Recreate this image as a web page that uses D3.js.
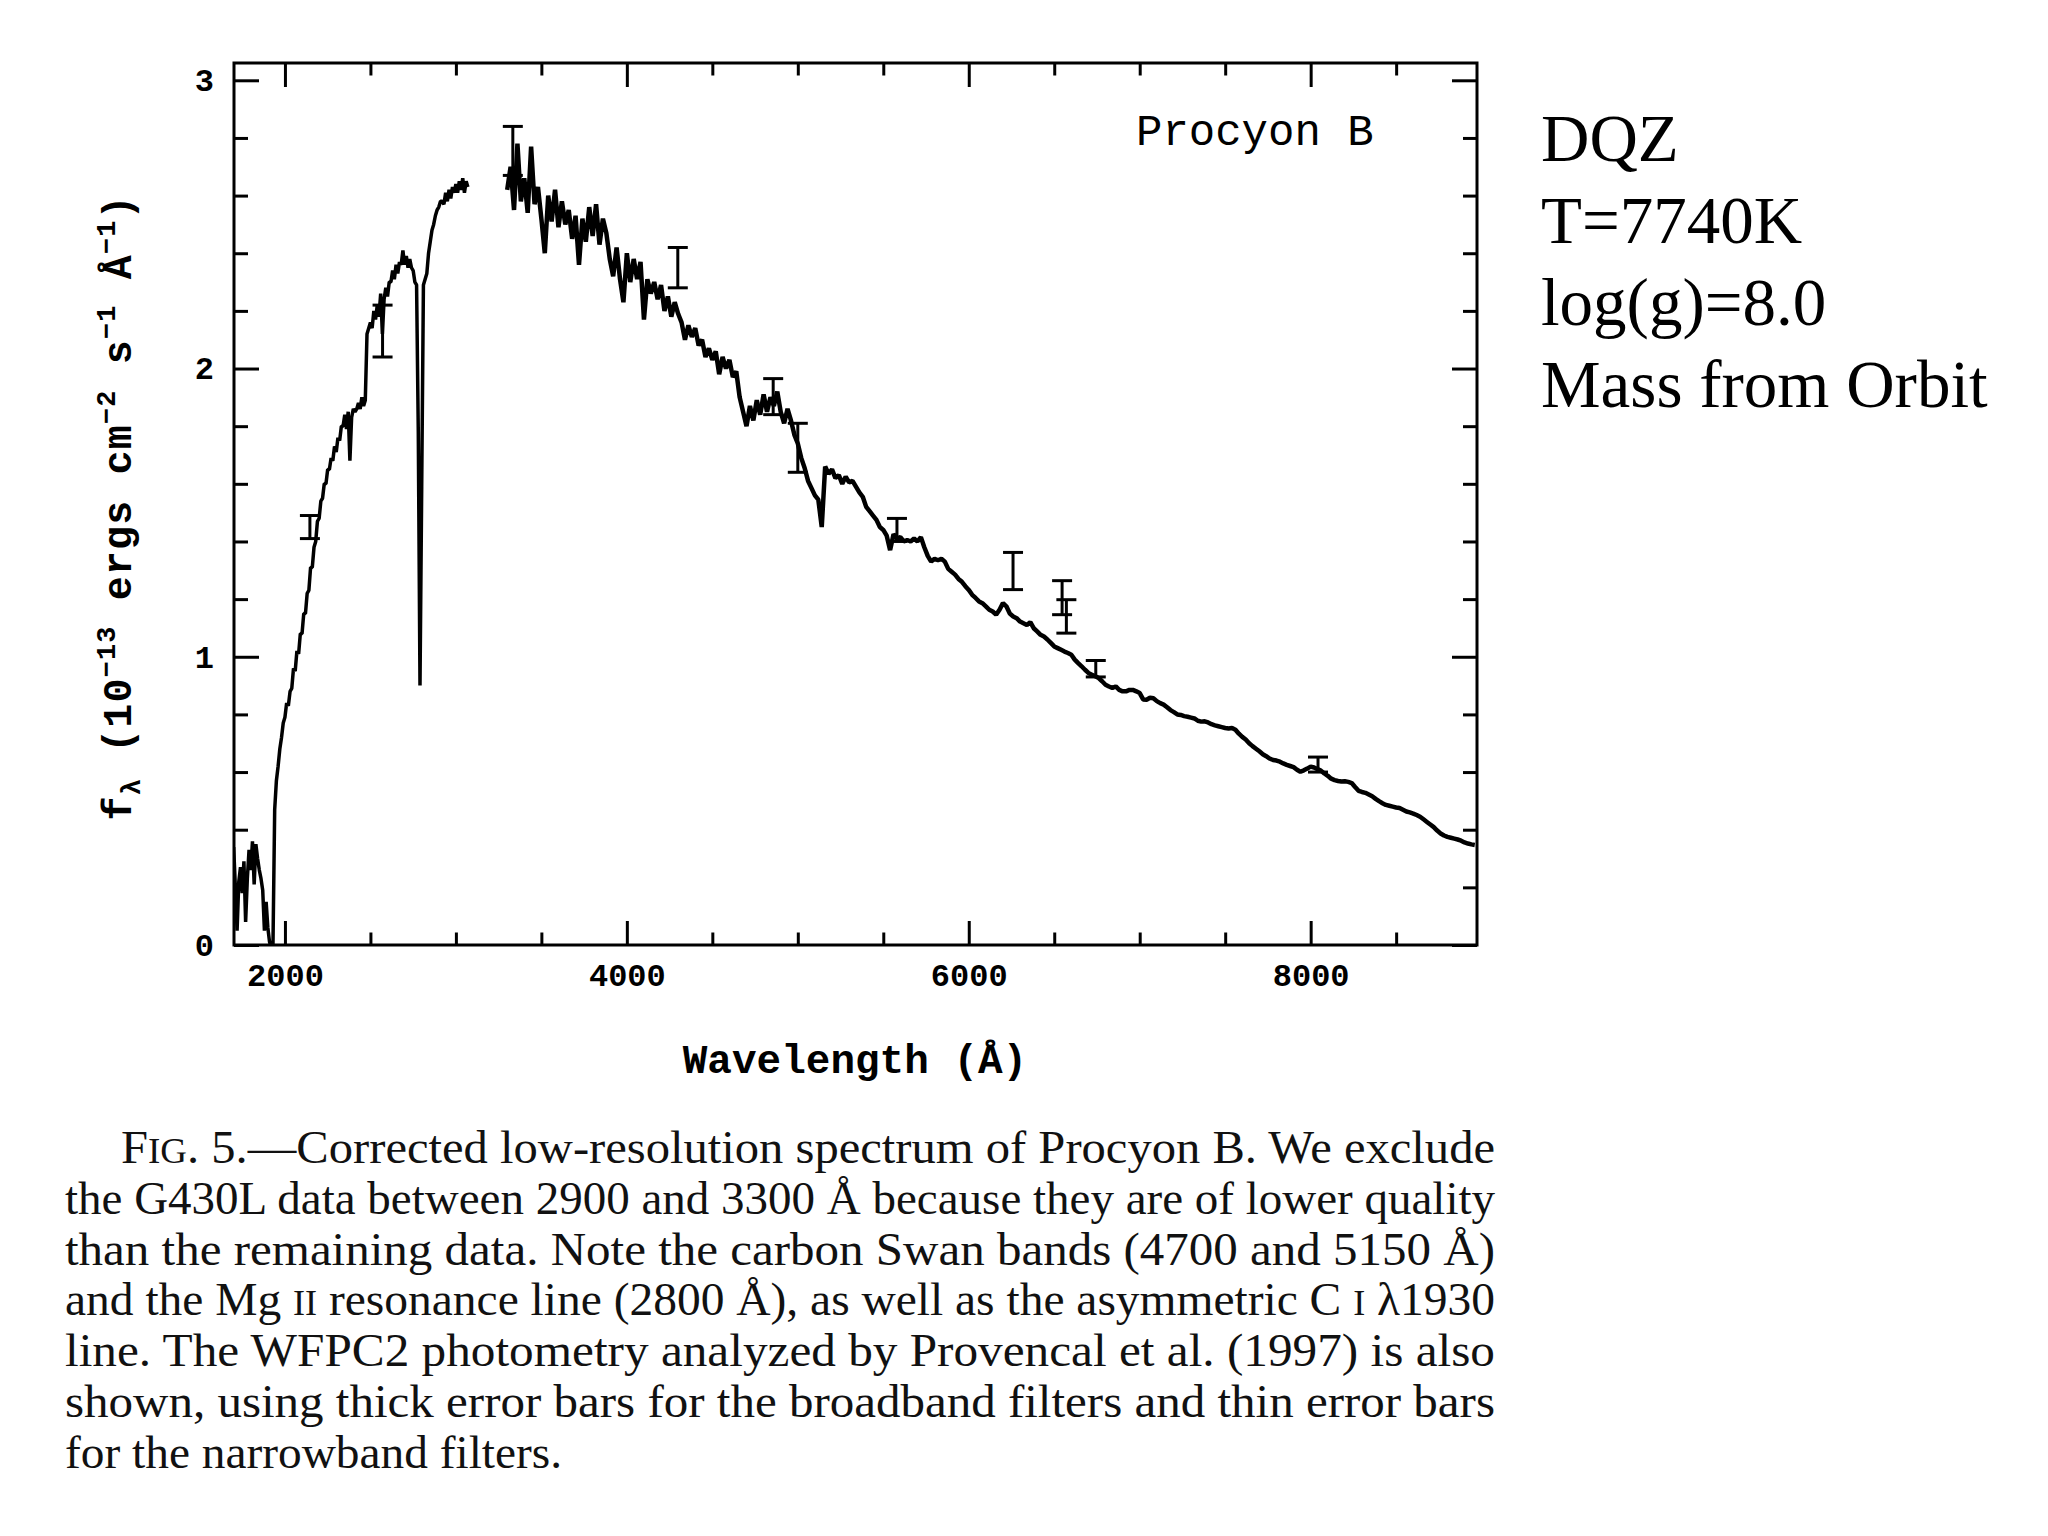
<!DOCTYPE html>
<html>
    <head>
        <meta charset="utf-8">
        <title>Procyon B spectrum</title>
        <script src="https://d3js.org/d3.v7.min.js"></script>
    </head>

    <body style="margin:0;background:#fff">
        <svg id="my_dataviz" width="2048" height="1536"></svg>
    </body>

    <script>

        // ---- data ----
        // STIS G140L/G230L part, flux in 1e-13 erg/cm2/s/A, 10 A grid from 1700 A
        var uvStart = 1700, uvStep = 10
        var uvFlux = [
            0.34,0.20,0.05,0.22,0.27,0.18,0.29,0.08,0.23,0.33,
            0.26,0.36,0.21,0.35,0.30,0.26,0.23,0.19,0.05,0.15,
            0.06,0.01,-0.01,0.00,0.47,0.57,0.62,0.68,0.72,0.77,
            0.79,0.84,0.83,0.88,0.89,0.96,0.95,1.02,1.01,1.08,
            1.08,1.15,1.15,1.22,1.23,1.31,1.31,1.38,1.40,1.47,
            1.48,1.54,1.55,1.60,1.60,1.65,1.65,1.69,1.68,1.73,
            1.71,1.76,1.75,1.80,1.80,1.84,1.79,1.85,1.68,1.83,
            1.86,1.85,1.86,1.88,1.86,1.90,1.87,1.89,2.12,2.14,
            2.16,2.14,2.20,2.17,2.22,2.18,2.26,2.12,2.24,2.28,
            2.25,2.30,2.30,2.34,2.31,2.36,2.33,2.37,2.36,2.41,
            2.36,2.39,2.35,2.38,2.35,2.34,2.30,2.29,1.78,0.90,
            1.59,2.29,2.31,2.33,2.40,2.44,2.48,2.50,2.53,2.55,
            2.56,2.58,2.58,2.57,2.61,2.58,2.62,2.59,2.63,2.61,
            2.64,2.61,2.65,2.62,2.66,2.61,2.65,2.63
        ]

        // G430L/G750L part, 20 A grid from 3300 A
        var optStart = 3300, optStep = 20
        var optFlux = [
            2.62,2.70,2.55,2.78,2.58,2.66,2.54,2.77,2.57,2.63,
            2.52,2.40,2.60,2.51,2.62,2.49,2.58,2.50,2.55,2.45,
            2.53,2.36,2.52,2.44,2.56,2.46,2.57,2.43,2.52,2.47,
            2.38,2.32,2.42,2.31,2.23,2.40,2.30,2.38,2.31,2.37,
            2.17,2.31,2.26,2.30,2.24,2.29,2.20,2.25,2.18,2.23,
            2.19,2.16,2.10,2.15,2.11,2.14,2.08,2.10,2.04,2.07,
            2.03,2.06,1.98,2.04,2.00,2.03,1.97,1.99,1.90,1.85,
            1.80,1.87,1.82,1.89,1.84,1.91,1.85,1.90,1.87,1.92,
            1.85,1.81,1.86,1.82,1.77,1.74,1.69,1.655,1.61,1.585,
            1.56,1.545,1.45,1.66,1.635,1.65,1.62,1.63,1.60,1.625,
            1.605,1.61,1.59,1.57,1.555,1.52,1.505,1.49,1.475,1.45,
            1.44,1.42,1.37,1.425,1.41,1.415,1.40,1.405,1.40,1.41,
            1.40,1.415,1.38,1.35,1.33,1.34,1.335,1.34,1.33,1.305,
            1.295,1.285,1.27,1.26,1.245,1.232,1.215,1.204,1.192,1.186,
            1.175,1.163,1.157,1.146,1.163,1.186,1.175,1.15,1.14,1.134,
            1.122,1.116,1.11,1.12,1.099,1.088,1.076,1.07,1.06,1.048,
            1.036,1.03,1.024,1.018,1.013,1.007,0.99,0.978,0.967,0.955,
            0.944,0.938,0.932,0.926,0.915,0.903,0.897,0.892,0.897,0.885,
            0.88,0.88,0.885,0.885,0.88,0.874,0.852,0.851,0.858,0.856,
            0.846,0.839,0.834,0.825,0.815,0.808,0.80,0.798,0.794,0.792,
            0.789,0.786,0.778,0.775,0.776,0.772,0.766,0.762,0.759,0.756,
            0.753,0.751,0.753,0.747,0.733,0.722,0.713,0.70,0.69,0.681,
            0.672,0.662,0.655,0.647,0.642,0.64,0.636,0.63,0.625,0.621,
            0.617,0.608,0.601,0.606,0.612,0.619,0.616,0.61,0.605,0.595,
            0.587,0.577,0.572,0.569,0.567,0.568,0.566,0.562,0.548,0.535,
            0.531,0.528,0.522,0.516,0.507,0.499,0.492,0.486,0.483,0.48,
            0.477,0.475,0.469,0.463,0.46,0.456,0.451,0.445,0.436,0.427,
            0.418,0.409,0.397,0.387,0.38,0.375,0.372,0.369,0.366,0.362,
            0.356,0.352,0.349,0.347
        ]

        // WFPC2 photometry (Provencal et al. 1997)
        var errWave = [2146, 2571, 3333, 4298, 4856, 5000, 5580, 6259, 6546, 6571, 6743, 8043]
        var errLow  = [1.41, 2.04, 2.67, 2.28, 1.84, 1.64, 1.40, 1.233, 1.146, 1.082, 0.93, 0.60]
        var errHigh = [1.49, 2.22, 2.84, 2.42, 1.965, 1.81, 1.48, 1.362, 1.264, 1.198, 0.987, 0.652]

        var xMajor = [2000, 4000, 6000, 8000]
        var xMinor = [2500, 3000, 3500, 4500, 5000, 5500, 6500, 7000, 7500, 8500]
        var yMajor = [0, 1, 2, 3]
        var yMinor = [0.2, 0.4, 0.6, 0.8, 1.2, 1.4, 1.6, 1.8, 2.2, 2.4, 2.6, 2.8]

        var starInfo = ["DQZ", "T=7740K", "log(g)=8.0", "Mass from Orbit"]

        // caption lines, [text, smallcaps]
        var captionLines = [
            [["F", 0], ["IG", 1], [". 5.\u2014Corrected low-resolution spectrum of Procyon B. We exclude", 0]],
            [["the G430L data between 2900 and 3300 \u00C5 because they are of lower quality", 0]],
            [["than the remaining data. Note the carbon Swan bands (4700 and 5150 \u00C5)", 0]],
            [["and the Mg ", 0], ["II", 1], [" resonance line (2800 \u00C5), as well as the asymmetric C ", 0], ["I", 1], [" \u03BB1930", 0]],
            [["line. The WFPC2 photometry analyzed by Provencal et al. (1997) is also", 0]],
            [["shown, using thick error bars for the broadband filters and thin error bars", 0]],
            [["for the narrowband filters.", 0]]
        ]

        // ---- layout ----
        var svg = d3.select("svg")
        var plotL = 234, plotR = 1477, plotT = 63, plotB = 945
        var mono = "'Liberation Mono', 'DejaVu Sans Mono', monospace"
        var serif = "'Liberation Serif', 'Times New Roman', serif"

        svg.append("rect").attr("width", 2048).attr("height", 1536).attr("fill", "#fff")

        var x = d3.scaleLinear().domain([1702, 8973]).range([plotL, plotR])
        var y = d3.scaleLinear().domain([0, 3.06]).range([plotB, plotT])

        svg.append("clipPath").attr("id", "plotclip")
            .append("rect").attr("x", plotL).attr("y", plotT)
            .attr("width", plotR - plotL).attr("height", plotB - plotT)

        // spectrum
        var uvData = uvFlux.map(function(f, i){ return [uvStart + i * uvStep, f] })
        var optData = optFlux.map(function(f, i){ return [optStart + i * optStep, f] })

        var line = d3.line()
            .x(function(d){ return x(d[0]) })
            .y(function(d){ return y(d[1]) })

        svg.append("g").attr("clip-path", "url(#plotclip)")
            .selectAll("path")
            .data([uvData, optData])
            .enter().append("path")
            .attr("d", line)
            .style("fill", "none")
            .style("stroke", "#000")
            .style("stroke-width", function(d, i){ return i === 0 ? 3.5 : 4.5 })
            .style("stroke-linejoin", "bevel")

        // error bars
        var eb = svg.append("g").selectAll("g")
            .data(errWave.map(function(w, i){ return {w: w, lo: errLow[i], hi: errHigh[i]} }))
            .enter().append("g")
            .style("stroke", "#000").style("stroke-width", 3)
        eb.append("line")
            .attr("x1", function(d){ return x(d.w) }).attr("x2", function(d){ return x(d.w) })
            .attr("y1", function(d){ return y(d.lo) }).attr("y2", function(d){ return y(d.hi) })
        eb.append("line")
            .attr("x1", function(d){ return x(d.w) - 10 }).attr("x2", function(d){ return x(d.w) + 10 })
            .attr("y1", function(d){ return y(d.lo) }).attr("y2", function(d){ return y(d.lo) })
        eb.append("line")
            .attr("x1", function(d){ return x(d.w) - 10 }).attr("x2", function(d){ return x(d.w) + 10 })
            .attr("y1", function(d){ return y(d.hi) }).attr("y2", function(d){ return y(d.hi) })

        // axes, ticks pointing inwards on all four sides
        function drawAxis(axis, tx, ty){
            var g = svg.append("g").attr("transform", "translate(" + tx + "," + ty + ")").call(axis)
            g.select(".domain").remove()
            g.selectAll(".tick line").style("stroke", "#000").style("stroke-width", 3)
            g.selectAll("text").style("font-family", mono).style("font-weight", "bold")
                .style("font-size", "32px").style("fill", "#000")
            return g
        }

        drawAxis(d3.axisBottom(x).tickValues(xMajor).tickSize(-24).tickPadding(18).tickFormat(d3.format("d")), 0, plotB)
        drawAxis(d3.axisBottom(x).tickValues(xMinor).tickSize(-12.5).tickFormat(""), 0, plotB)
        drawAxis(d3.axisTop(x).tickValues(xMajor).tickSize(-24).tickFormat(""), 0, plotT)
        drawAxis(d3.axisTop(x).tickValues(xMinor).tickSize(-12.5).tickFormat(""), 0, plotT)

        drawAxis(d3.axisLeft(y).tickValues(yMajor).tickSize(-25).tickPadding(20).tickFormat(d3.format("d")), plotL, 0)
        drawAxis(d3.axisLeft(y).tickValues(yMinor).tickSize(-14).tickFormat(""), plotL, 0)
        drawAxis(d3.axisRight(y).tickValues(yMajor).tickSize(-25).tickFormat(""), plotR, 0)
        drawAxis(d3.axisRight(y).tickValues(yMinor).tickSize(-14).tickFormat(""), plotR, 0)

        // frame
        svg.append("rect")
            .attr("x", plotL).attr("y", plotT)
            .attr("width", plotR - plotL).attr("height", plotB - plotT)
            .style("fill", "none").style("stroke", "#000").style("stroke-width", 3)

        // label inside the plot
        svg.append("text")
            .attr("x", 1136).attr("y", 145)
            .style("font-family", mono).style("font-size", "44px")
            .text("Procyon B")

        // x axis title
        svg.append("text")
            .attr("x", 855).attr("y", 1073)
            .attr("text-anchor", "middle")
            .style("font-family", mono).style("font-weight", "bold").style("font-size", "41px")
            .text("Wavelength (\u00C5)")

        // y axis title with sub/superscripts
        var yt = svg.append("text")
            .attr("transform", "translate(131,508) rotate(-90)")
            .attr("text-anchor", "middle")
            .attr("textLength", 625)
            .attr("lengthAdjust", "spacing")
            .style("font-family", mono).style("font-weight", "bold").style("font-size", "40px")
        var yParts = [
            ["f", 0, 0], ["\u03BB", 9, 27], [" (10", -9, 40], ["\u221213", -16, 27],
            [" ergs cm", 16, 40], ["\u22122", -16, 27], [" s", 16, 40], ["\u22121", -16, 27],
            [" \u00C5", 16, 40], ["\u22121", -16, 27], [")", 16, 40]
        ]
        yParts.forEach(function(p){
            yt.append("tspan").attr("dy", p[1]).style("font-size", p[2] ? p[2] + "px" : null).text(p[0])
        })

        // star parameters at the right
        svg.append("g").selectAll("text")
            .data(starInfo)
            .enter().append("text")
            .attr("x", 1541)
            .attr("y", function(d, i){ return 161 + i * 82 })
            .style("font-family", serif).style("font-size", "67px")
            .text(function(d){ return d })

        // figure caption
        var capWidths = [1374, 1430, 1430, 1430, 1430, 1430, 497]
        captionLines.forEach(function(parts, i){
            var t = svg.append("text")
                .attr("x", i === 0 ? 121 : 65)
                .attr("y", 1163 + i * 50.8)
                .attr("textLength", capWidths[i])
                .attr("lengthAdjust", "spacingAndGlyphs")
                .style("font-family", serif).style("font-size", "46px").style("fill", "#111")
            parts.forEach(function(p){
                t.append("tspan").style("font-size", p[1] ? "35px" : null).text(p[0])
            })
        })

    </script>
</html>
